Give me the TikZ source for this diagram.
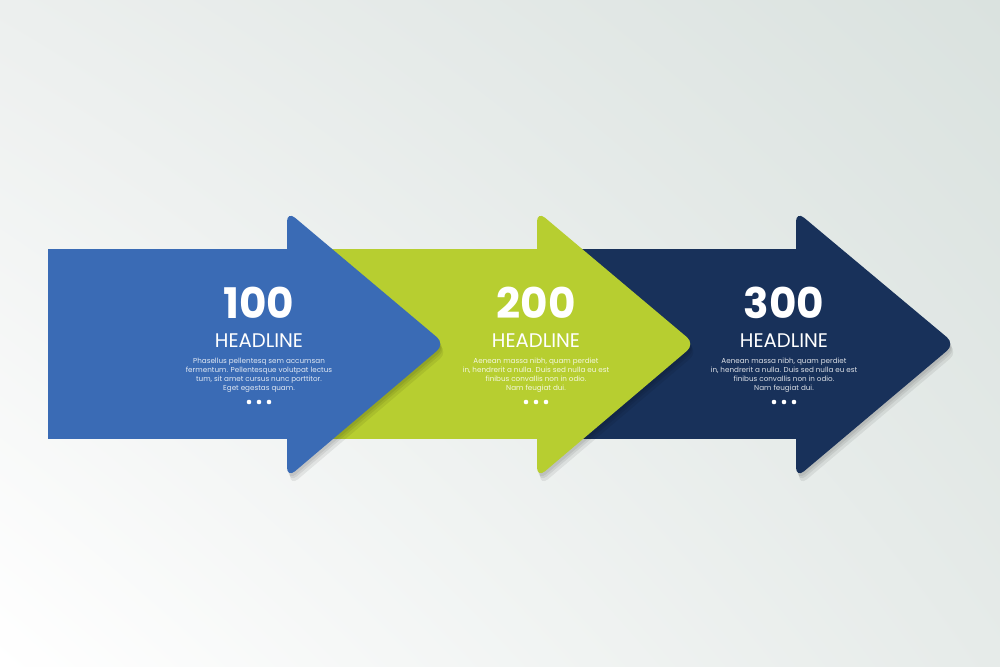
\documentclass[tikz,border=0pt]{standalone}
\usepackage{fontspec}
\setmainfont{Poppins}
\usetikzlibrary{positioning, shadings}

\definecolor{arrowblue}{HTML}{3A6BB5}
\definecolor{arrowgreen}{HTML}{B7CE30}
\definecolor{arrownavy}{HTML}{18315A}
\definecolor{bgtopright}{HTML}{DAE2DF}
\definecolor{bgtopleft}{HTML}{ECEFEE}
\definecolor{bglowright}{HTML}{E6EBE9}

\tikzset{
    numlabel/.style={text=white, font=\fontsize{24}{26}\selectfont\bfseries},
    headlabel/.style={text=white, font=\fontsize{11.2}{12}\selectfont},
    bodytext/.style={text=white, text opacity=0.85, align=center, font=\fontsize{4.1}{5.1}\selectfont},
    dotmark/.style={circle, fill=white, inner sep=0pt, minimum size=2.6pt},
    headshadow/.style={fill=black, opacity=0.07},
    headtip/.style={rounded corners=6pt},
}

\begin{document}
\begin{tikzpicture}[x=0.02cm, y=-0.02cm]
        \useasboundingbox (0,0) rectangle (1000,666);
        \shade[upper left=bgtopleft, upper right=bgtopright, lower left=white, lower right=bglowright]
            (0,0) rectangle (1000,666);

        % third arrow
        \foreach \s in {(1,3), (2,5), (3,8)}
            \fill[headshadow, shift={\s}, headtip] (796,211) -- (955,344) -- (796,478) -- cycle;
        \fill[arrownavy] (560,249) rectangle (810,439);
        \fill[arrownavy, headtip] (796,211) -- (955,344) -- (796,478) -- cycle;

        % second arrow
        \foreach \s in {(1,3), (2,5), (3,8)}
            \fill[headshadow, shift={\s}, headtip] (537,211) -- (695,344) -- (537,478) -- cycle;
        \fill[arrowgreen] (300,249) rectangle (550,439);
        \fill[arrowgreen, headtip] (537,211) -- (695,344) -- (537,478) -- cycle;

        % first arrow
        \foreach \s in {(1,3), (2,5), (3,8)}
            \fill[headshadow, shift={\s}, headtip] (287,211) -- (445,344) -- (287,478) -- cycle;
        \fill[arrowblue] (48,249) rectangle (300,439);
        \fill[arrowblue, headtip] (287,211) -- (445,344) -- (287,478) -- cycle;

        % labels
        \node[numlabel] (num1) at (259,303) {100};
        \node[headlabel] (head1) at (259,341) {HEADLINE};
        \node[bodytext] (text1) at (259,375) {Phasellus pellentesq sem accumsan\\fermentum. Pellentesque volutpat lectus\\tum, sit amet cursus nunc porttitor.\\Eget egestas quam.};

        \node[numlabel] (num2) at (536,303) {200};
        \node[headlabel] (head2) at (536,341) {HEADLINE};
        \node[bodytext] (text2) at (536,375) {Aenean massa nibh, quam perdiet\\in, hendrerit a nulla. Duis sed nulla eu est\\finibus convallis non in odio.\\Nam feugiat dui.};

        \node[numlabel] (num3) at (784,303) {300};
        \node[headlabel] (head3) at (784,341) {HEADLINE};
        \node[bodytext] (text3) at (784,375) {Aenean massa nibh, quam perdiet\\in, hendrerit a nulla. Duis sed nulla eu est\\finibus convallis non in odio.\\Nam feugiat dui.};

        % dots
        \foreach \cx/\n in {259/1, 536/2, 784/3}
            \foreach \dx in {-10, 0, 10}
                \node[dotmark] at (\cx+\dx,402) {};
    \end{tikzpicture}
\end{document}
